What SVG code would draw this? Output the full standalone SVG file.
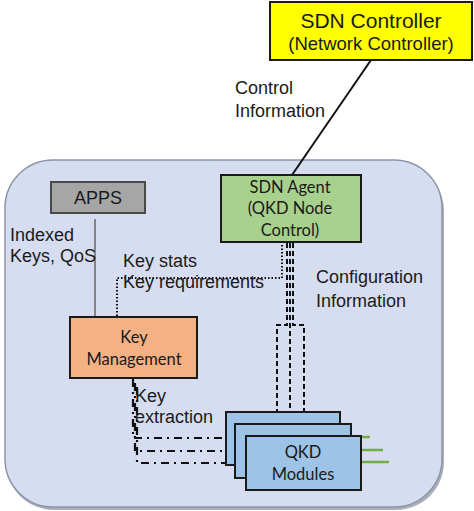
<svg xmlns="http://www.w3.org/2000/svg" width="474" height="511" viewBox="0 0 474 511">
<defs>
<style>
.lbl{font-family:"Liberation Sans",Arial,sans-serif;font-size:18px;fill:#1a1a1a}
.box{stroke:#1a1a1a;stroke-width:2}
.cal{font-family:Lato,"Noto Sans",sans-serif;font-size:16.5px;fill:#1a1a1a;text-anchor:middle}
.dash{fill:none;stroke:#111;stroke-width:2;stroke-dasharray:5 3}
.dot{fill:none;stroke:#111;stroke-width:2;stroke-dasharray:1.5 2}
.dashdot{fill:none;stroke:#111;stroke-width:2.2;stroke-dasharray:8 5 2 5}
.green{stroke:#70ad47;stroke-width:2.5}
</style>
</defs>
<rect width="474" height="511" fill="#ffffff"/>
<g id="container">
<rect x="6" y="163" width="438" height="347" rx="48" fill="#6f7b8c" opacity="0.6"/>
<rect x="5" y="160" width="437" height="347" rx="48" fill="#d6ddf1" stroke="#8a95a8" stroke-width="1.5"/>
</g>
<g id="connectors">
<line x1="371" y1="60" x2="292" y2="175" stroke="#111" stroke-width="2"/>
<line x1="95" y1="219" x2="95" y2="317" stroke="#7a7a7a" stroke-width="1.8"/>
<path class="dot" d="M117,316 V278 H282 V243"/>
<path class="dash" d="M287,243 V325 H277 V412"/>
<path class="dash" d="M290,243 V423"/>
<path class="dash" d="M293,243 V325 H304 V437"/>
<path class="dashdot" d="M133,379 V438 H226"/>
<path class="dashdot" d="M135,383 V451 H235"/>
<path class="dashdot" d="M137,387 V463 H246"/>
<line class="green" x1="340" y1="437" x2="370" y2="437"/>
<line class="green" x1="351" y1="450" x2="383" y2="450"/>
<line class="green" x1="361" y1="462" x2="389" y2="462"/>
</g>
<g id="sdn-controller">
<rect class="box" x="270" y="2" width="202" height="58" fill="#ffff00"/>
<text x="371" y="28" font-family="Liberation Sans,Arial,sans-serif" font-size="21" fill="#1a1a1a" text-anchor="middle">SDN Controller</text>
<text x="371" y="50" font-family="Liberation Sans,Arial,sans-serif" font-size="18.5" fill="#1a1a1a" text-anchor="middle">(Network Controller)</text>
</g>
<g id="label-control">
<text class="lbl" x="235" y="94" font-size="17.5">Control</text>
<text class="lbl" x="235" y="117" font-size="17.5">Information</text>
</g>
<g id="sdn-agent">
<rect class="box" x="221" y="175" width="140" height="67" fill="#a9d18e"/>
<text class="cal" x="290" y="193">SDN Agent</text>
<text class="cal" x="290" y="214">(QKD Node</text>
<text class="cal" x="290" y="236">Control)</text>
</g>
<g id="apps">
<rect x="51" y="182" width="94" height="31" fill="#a6a6a6" stroke="#4a4a4a" stroke-width="2"/>
<text x="98" y="204" font-family="Liberation Sans,Arial,sans-serif" font-size="18" fill="#1a1a1a" text-anchor="middle">APPS</text>
</g>
<g id="label-indexed">
<text class="lbl" x="10" y="241">Indexed</text>
<text class="lbl" x="10" y="262">Keys, QoS</text>
</g>
<g id="label-keystats">
<text class="lbl" x="123" y="267">Key stats</text>
<text class="lbl" x="123" y="288">Key requirements</text>
</g>
<g id="label-config">
<text class="lbl" x="316" y="283" font-size="17">Configuration</text>
<text class="lbl" x="316" y="307" font-size="17">Information</text>
</g>
<g id="key-management">
<rect class="box" x="70" y="317" width="127" height="61" fill="#f4b183"/>
<text class="cal" x="134" y="343">Key</text>
<text class="cal" x="134" y="365">Management</text>
</g>
<g id="label-extraction">
<text class="lbl" x="135" y="402">Key</text>
<text class="lbl" x="135" y="423">extraction</text>
</g>
<g id="qkd-modules">
<rect class="box" x="226" y="412" width="114" height="53" fill="#9dc3e6"/>
<rect class="box" x="235" y="424" width="116" height="54" fill="#9dc3e6"/>
<rect class="box" x="246" y="436" width="115" height="54" fill="#9dc3e6"/>
<text class="cal" x="303" y="458" font-size="17">QKD</text>
<text class="cal" x="303" y="480" font-size="17">Modules</text>
</g>
</svg>
